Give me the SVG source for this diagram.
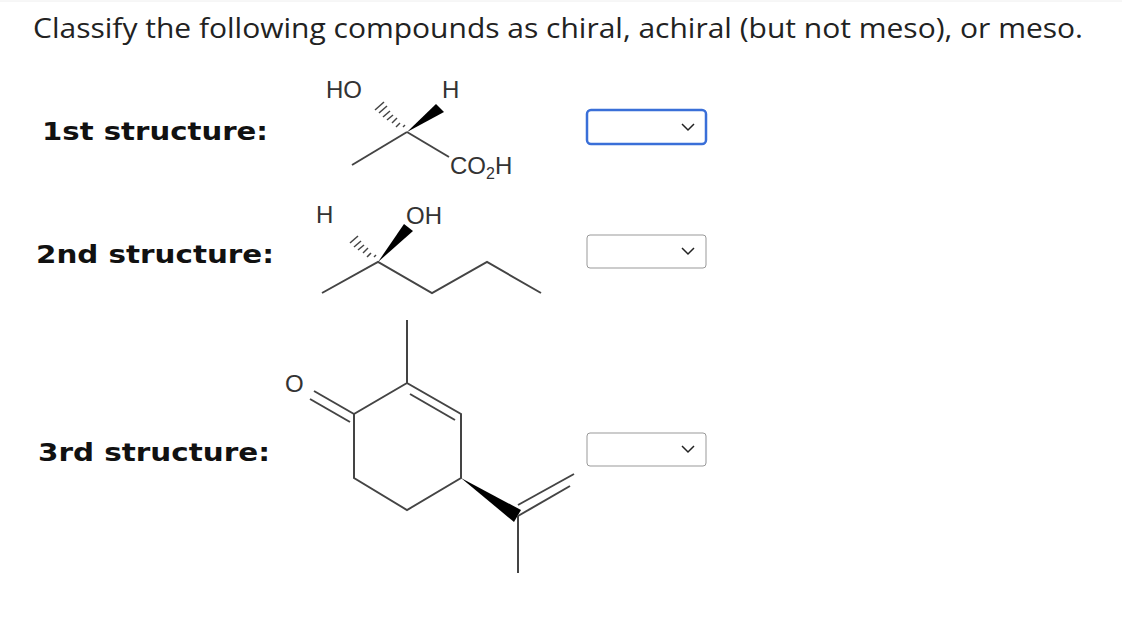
<svg xmlns="http://www.w3.org/2000/svg" width="1122" height="632" viewBox="0 0 1122 632">
<style>
.t{font-family:"Open Sans",sans-serif;font-size:28px;fill:#222}
.l{font-family:"DejaVu Sans",sans-serif;font-weight:bold;font-size:25px;fill:#111}
.a{font-family:"Liberation Sans",Arial,sans-serif;font-size:24px;fill:#333}
.b{stroke:#444;stroke-width:2;fill:none}
.h{stroke:#444;stroke-width:1.5}
.box{fill:#fff;stroke:#999;stroke-width:1}
.chev{fill:none;stroke:#222;stroke-width:1.5}
</style>
<rect width="1122" height="632" fill="#fff"/>
<line x1="0" y1="1" x2="1122" y2="1" stroke="#eee"/>
<text class="t" x="33" y="38" textLength="1050" lengthAdjust="spacingAndGlyphs">Classify the following compounds as chiral, achiral (but not meso), or meso.</text>
<text class="l" x="42" y="140" textLength="226" lengthAdjust="spacingAndGlyphs">1st structure:</text>
<text class="l" x="36" y="263" textLength="238" lengthAdjust="spacingAndGlyphs">2nd structure:</text>
<text class="l" x="38" y="461" textLength="232" lengthAdjust="spacingAndGlyphs">3rd structure:</text>
<g id="s1">
<line class="b" x1="407" y1="132" x2="352" y2="165"/>
<line class="b" x1="407" y1="132" x2="449" y2="157"/>
<polygon points="407,132 436,104 444,112" fill="#000"/>
<g class="h"><line x1="403" y1="127" x2="405" y2="125"/><line x1="400" y1="123" x2="396" y2="127"/><line x1="397" y1="118" x2="392" y2="123"/><line x1="393" y1="115" x2="387" y2="120"/><line x1="390" y1="111" x2="383" y2="117"/><line x1="387" y1="106" x2="379" y2="113"/><line x1="384" y1="102" x2="375" y2="110"/></g>
<text class="a" x="326" y="98">HO</text>
<text class="a" x="442" y="98">H</text>
<text class="a" x="450" y="174">CO<tspan font-size="16" dy="5">2</tspan><tspan dy="-5">H</tspan></text>
</g>
<g id="s2">
<polyline class="b" points="322,293 378,262 432,293 487,262 541,293"/>
<polygon points="378,262 404,224 413,231" fill="#000"/>
<g class="h"><line x1="374" y1="257" x2="376" y2="255"/><line x1="371" y1="253" x2="367" y2="257"/><line x1="368" y1="248" x2="363" y2="253"/><line x1="364" y1="245" x2="358" y2="250"/><line x1="361" y1="241" x2="354" y2="247"/><line x1="358" y1="236" x2="350" y2="243"/></g>
<text class="a" x="316" y="223">H</text>
<text class="a" x="406" y="224">OH</text>
</g>
<g id="s3">
<polyline class="b" points="407,320 407,383 461,414 461,478 407,510 354,478 354,414 407,383"/>
<line class="b" x1="410" y1="394" x2="455" y2="420"/>
<line class="b" x1="354" y1="414" x2="314" y2="391"/>
<line class="b" x1="350" y1="422" x2="310" y2="399"/>
<text class="a" x="285" y="392">O</text>
<polygon points="461,478 514,522 521,510" fill="#000"/>
<line class="b" x1="518" y1="516" x2="570" y2="486"/>
<line class="b" x1="518" y1="505" x2="574" y2="474"/>
<line class="b" x1="518" y1="516" x2="518" y2="573"/>
</g>
<g id="d1"><rect x="587" y="110" width="119" height="34" rx="4" fill="#fff" stroke="#3a6fd8" stroke-width="2.5"/><polyline class="chev" points="682,124 688,130 694,124"/></g>
<g id="d2"><rect class="box" x="587" y="235" width="119" height="33" rx="3"/><polyline class="chev" points="682,248 688,254 694,248"/></g>
<g id="d3"><rect class="box" x="587" y="433" width="119" height="33" rx="3"/><polyline class="chev" points="682,446 688,452 694,446"/></g>
</svg>
